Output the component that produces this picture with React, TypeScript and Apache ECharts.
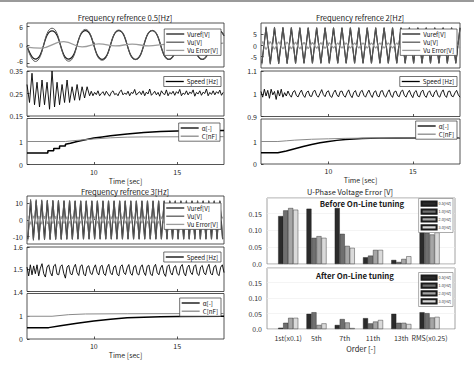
import React, { useEffect, useRef } from "react";
import * as echarts from "echarts";

const FONT = "'Noto Sans CJK JP', 'Noto Sans', sans-serif";

// ---------- Panel A : 0.5 Hz ----------
const tA = [6.0, 6.5, 7.5, 8.5, 9.5, 10.5, 11.5, 12.5, 13.5, 14.5, 15.5, 16.5, 17.5, 17.8];
const vurefA = [-0.3, -4.6, 4.6, -4.6, 4.7, -4.7, 4.7, -4.7, 4.7, -4.7, 4.7, -4.7, 4.7, 3.0];
const vuA = [-0.5, -5.4, 5.5, -5.3, 5.1, -5.0, 4.9, -4.8, 4.8, -4.7, 4.7, -4.7, 4.7, 3.0];
const tErrA = [6.0, 6.8, 8.2, 9.3, 10.3, 11.3, 12.3, 13.3, 14.3, 15.3, 16.3, 17.3, 17.8];
const errA = [-0.7, -1.0, 1.1, -0.6, 0.4, -0.3, 0.3, -0.3, 0.2, -0.2, 0.3, 0.5, 0.6];
const speedA1 = [0.29, 0.21, 0.34, 0.2, 0.3, 0.19, 0.31, 0.2, 0.3, 0.18, 0.35, 0.19, 0.3, 0.2, 0.29, 0.21, 0.31, 0.21, 0.28, 0.22, 0.29, 0.22, 0.28, 0.23, 0.28, 0.24];
const speedA2 = [
  0.26, 0.24, 0.255, 0.245, 0.262, 0.24, 0.25, 0.258, 0.242, 0.26,
  0.248, 0.238, 0.255, 0.262, 0.245, 0.25, 0.24, 0.258, 0.265, 0.244,
  0.252, 0.246, 0.26, 0.24, 0.255, 0.25, 0.268, 0.243, 0.252, 0.258,
  0.245, 0.262, 0.24, 0.256, 0.248, 0.27, 0.242, 0.25, 0.26, 0.244,
  0.255, 0.238, 0.262, 0.25, 0.245, 0.266, 0.24, 0.255, 0.248, 0.26,
  0.242, 0.258, 0.25, 0.268, 0.24, 0.252, 0.246, 0.262, 0.244, 0.256,
  0.25, 0.266, 0.238, 0.255, 0.248, 0.262, 0.242, 0.256, 0.25, 0.27,
  0.24, 0.255, 0.246, 0.262, 0.244, 0.258, 0.25, 0.265, 0.242, 0.255,
];
const alphaA = [[6, 0.5], [7.25, 0.5], [7.25, 0.6], [7.6, 0.6], [7.6, 0.7], [7.95, 0.7], [7.95, 0.8], [8.3, 0.8], [8.3, 0.88], [8.6, 0.92], [9.0, 1.0], [9.5, 1.08], [10, 1.15], [10.5, 1.2], [11, 1.25], [12, 1.33], [13, 1.39], [14, 1.43], [15, 1.46], [16, 1.47], [17.8, 1.48]];
const capA = [[6, 1.0], [8.3, 1.0], [9, 1.05], [10, 1.11], [11, 1.16], [12, 1.19], [13, 1.2], [17.8, 1.21]];

// ---------- Panel B : 2 Hz ----------
const vurefB = [
  -8, 8, -8, 8, -8, 8, -8, 8, -8, 8, -8, 8, -8, 8, -8, 8, -8, 8, -8, 8, -8, 8, -8, 8,
  -8, 8, -8, 8, -8, 8, -8, 8, -8, 8, -8, 8, -8, 8, -8, 8, -8, 8, -8, 8, -8, 8, -8, 8,
];
const vuB = [
  -8.6, 8.5, -8.5, 8.4, -8.4, 8.3, -8.3, 8.2, -8.2, 8.1, -8.1, 8.1, -8.1, 8.1, -8.1, 8.1, -8.1, 8.1, -8.1, 8.1, -8.1, 8.1, -8.1, 8.1,
  -8.1, 8.1, -8.1, 8.1, -8.1, 8.1, -8.1, 8.1, -8.1, 8.1, -8.1, 8.1, -8.1, 8.1, -8.1, 8.1, -8.1, 8.1, -8.1, 8.1, -8.1, 8.1, -8.1, 8.1,
];
const errB = [
  1.9, -1.8, 1.8, -1.7, 1.7, -1.6, 1.6, -1.5, 1.5, -1.5, 1.4, -1.4, 1.4, -1.3, 1.3, -1.3, 1.3, -1.2, 1.2, -1.2, 1.2, -1.2, 1.2, -1.2,
  1.2, -1.2, 1.2, -1.2, 1.2, -1.2, 1.2, -1.2, 1.2, -1.2, 1.2, -1.2, 1.2, -1.2, 1.2, -1.2, 1.2, -1.2, 1.2, -1.2, 1.2, -1.2, 1.2, -1.2,
];
const speedB = [
  1.01, 0.985, 1.02, 0.99, 1.015, 0.98, 1.02, 0.995, 1.01, 0.975, 1.015, 0.99, 1.02, 0.985, 1.005,
  0.99, 1.012, 0.995, 0.985, 1.008, 1.014, 0.992, 0.986, 1.004, 1.016,
  0.994, 0.984, 1.006, 1.012, 0.99, 0.988, 1.01, 1.015, 0.993, 0.985,
  1.002, 1.018, 0.996, 0.987, 1.008, 1.013, 0.99, 0.984, 1.005, 1.016,
  0.995, 0.986, 1.01, 1.012, 0.992, 0.985, 1.004, 1.017, 0.994, 0.983,
  1.006, 1.014, 0.991, 0.987, 1.009, 1.015, 0.993, 0.985, 1.003, 1.016,
  0.996, 0.984, 1.007, 1.013, 0.99, 0.986, 1.011, 1.014, 0.992, 0.985,
  1.005, 1.017, 0.994, 0.984, 1.008, 1.012, 0.991, 0.987, 1.01, 1.016,
  0.993, 0.985, 1.004, 1.015, 0.995, 0.983, 1.007, 1.014, 0.99, 0.986,
  1.009, 1.016, 0.992, 0.984, 1.005, 1.013, 0.994, 0.986, 1.008, 1.015,
  0.991, 0.985, 1.006, 1.017, 0.993, 0.984, 1.01, 1.012, 0.99, 0.987,
  1.004, 1.015, 0.995, 0.985,
];
const alphaB = [[6, 0.5], [7.0, 0.5], [7.5, 0.58], [8, 0.68], [8.5, 0.78], [9, 0.87], [9.5, 0.94], [10, 1.0], [10.5, 1.05], [11, 1.09], [12, 1.13], [13, 1.15], [14, 1.16], [17.8, 1.17]];
const capB = [[6, 1.0], [7, 1.0], [7.5, 1.03], [8, 1.06], [9, 1.1], [10, 1.12], [11, 1.14], [12, 1.15], [13, 1.16], [17.8, 1.17]];

// ---------- Panel C : 3 Hz ----------
const vurefC = [
  -11.5, 11.5, -11.5, 11.5, -11.5, 11.5, -11.5, 11.5, -11.5, 11.5,
  -11.5, 11.5, -11.5, 11.5, -11.5, 11.5, -11.5, 11.5, -11.5, 11.5,
  -11.5, 11.5, -11.5, 11.5, -11.5, 11.5, -11.5, 11.5, -11.5, 11.5,
  -11.5, 11.5, -11.5, 11.5, -11.5, 11.5, -11.5, 11.5, -11.5, 11.5,
  -11.5, 11.5, -11.5, 11.5, -11.5, 11.5, -11.5, 11.5, -11.5, 11.5,
  -11.5, 11.5, -11.5, 11.5, -11.5, 11.5, -11.5, 11.5, -11.5, 11.5,
  -11.5, 11.5, -11.5, 11.5, -11.5, 11.5, -11.5, 11.5, -11.5, 11.5,
  -11.5,
];
const vuC = [
  -12.4, 12.4, -12.3, 12.3, -12.2, 12.2, -12.1, 12.1, -12.0, 12.0,
  -11.9, 11.9, -11.9, 11.8, -11.8, 11.8, -11.8, 11.7, -11.7, 11.7,
  -11.7, 11.7, -11.7, 11.7, -11.7, 11.7, -11.7, 11.7, -11.7, 11.7,
  -11.7, 11.7, -11.7, 11.7, -11.7, 11.7, -11.7, 11.7, -11.7, 11.7,
  -11.7, 11.7, -11.7, 11.7, -11.7, 11.7, -11.7, 11.7, -11.7, 11.7,
  -11.7, 11.7, -11.7, 11.7, -11.7, 11.7, -11.7, 11.7, -11.7, 11.7,
  -11.7, 11.7, -11.7, 11.7, -11.7, 11.7, -11.7, 11.7, -11.7, 11.7,
  -11.7,
];
const errC = [
  2.6, -2.6, 2.5, -2.5, 2.4, -2.4, 2.3, -2.3, 2.2, -2.2,
  2.2, -2.1, 2.1, -2.1, 2.0, -2.0, 2.0, -2.0, 2.0, -2.0,
  2.0, -2.0, 2.0, -2.0, 2.0, -2.0, 2.0, -2.0, 2.0, -2.0,
  2.0, -2.0, 2.0, -2.0, 2.0, -2.0, 2.0, -2.0, 2.0, -2.0,
  2.0, -2.0, 2.0, -2.0, 2.0, -2.0, 2.0, -2.0, 2.0, -2.0,
  2.0, -2.0, 2.0, -2.0, 2.0, -2.0, 2.0, -2.0, 2.0, -2.0,
  2.0, -2.0, 2.0, -2.0, 2.0, -2.0, 2.0, -2.0, 2.0, -2.0,
  2.0,
];
const speedC = [
  1.51, 1.47, 1.52, 1.475, 1.515, 1.48, 1.52, 1.47, 1.505, 1.525,
  1.48, 1.465, 1.51, 1.52, 1.485, 1.47, 1.515, 1.522, 1.478, 1.475,
  1.512, 1.52, 1.482, 1.46, 1.51, 1.518, 1.48, 1.475, 1.508, 1.522,
  1.485, 1.472, 1.514, 1.52, 1.478, 1.47, 1.51, 1.516, 1.482, 1.476,
  1.506, 1.52, 1.486, 1.474, 1.512, 1.518, 1.48, 1.472, 1.508, 1.522,
  1.484, 1.475, 1.51, 1.516, 1.478, 1.47, 1.512, 1.52, 1.485, 1.476,
  1.507, 1.521, 1.482, 1.473, 1.511, 1.517, 1.48, 1.474, 1.509, 1.52,
  1.486, 1.472, 1.513, 1.519, 1.479, 1.471, 1.51, 1.522, 1.484, 1.475,
  1.506, 1.518, 1.481, 1.468, 1.512, 1.52, 1.485, 1.474, 1.509, 1.516,
  1.48, 1.473, 1.511, 1.521, 1.483, 1.47, 1.508, 1.519, 1.486, 1.476,
  1.512, 1.52, 1.479, 1.472, 1.51, 1.517, 1.484, 1.475, 1.507, 1.522,
  1.482, 1.474, 1.511, 1.518, 1.48, 1.471, 1.509, 1.52, 1.485,
];
const alphaC = [[6, 0.5], [7.3, 0.5], [8, 0.58], [9, 0.69], [10, 0.79], [11, 0.87], [12, 0.93], [13, 0.96], [14, 0.98], [15, 0.99], [17.8, 1.0]];
const capC = [[6, 1.0], [7.5, 1.0], [8.5, 1.07], [9.5, 1.1], [12, 1.11], [17.8, 1.12]];

// ---------- Panel D : bar chart ----------
const orders = ["1st(x0.1)", "5th", "7th", "11th", "13th", "RMS(x0.25)"];
const freqNames = ["0.5[Hz]", "1.0[Hz]", "2.0[Hz]", "3.0[Hz]"];
const before05 = [0.143, 0.165, 0.167, 0.02, 0.012, 0.105];
const before10 = [0.16, 0.078, 0.09, 0.025, 0.006, 0.093];
const before20 = [0.167, 0.083, 0.054, 0.042, 0.015, 0.088];
const before30 = [0.162, 0.078, 0.048, 0.042, 0.023, 0.094];
const after05 = [0.004, 0.049, 0.013, 0.035, 0.049, 0.054];
const after10 = [0.02, 0.054, 0.032, 0.018, 0.02, 0.051];
const after20 = [0.036, 0.013, 0.021, 0.024, 0.02, 0.037];
const after30 = [0.036, 0.018, 0.003, 0.029, 0.016, 0.039];

const uniform = (t0: number, dt: number, vals: number[]) => vals.map((v, i) => [+(t0 + i * dt).toFixed(4), v]);
const paired = (ts: number[], vals: number[]) => vals.map((v, i) => [ts[i], v]);

const C_REF = "#1c1c1c";
const C_VU = "#5a5a5a";
const C_ERR = "#9c9c9c";
const BAR_COLORS = ["#2b2b2b", "#6f6f6f", "#a6a6a6", "#dadada"];

function buildOption() {
  const timeGrids = [
    { left: 27, top: 23, width: 197, height: 44 },
    { left: 27, top: 71, width: 197, height: 45 },
    { left: 27, top: 118.5, width: 197, height: 46 },
    { left: 261, top: 23, width: 199, height: 45 },
    { left: 261, top: 71, width: 199, height: 45.5 },
    { left: 261, top: 119, width: 199, height: 45 },
    { left: 27, top: 196, width: 197, height: 48 },
    { left: 27, top: 247, width: 197, height: 44.5 },
    { left: 27, top: 293.5, width: 197, height: 45.5 },
  ];
  const barGrids = [
    { left: 267, top: 198, width: 188, height: 66 },
    { left: 267, top: 268, width: 188, height: 61 },
  ];
  const yDefs = [
    { min: -7.2, max: 7.2, ticks: [-6, 0, 6] },
    { min: 0.15, max: 0.35, ticks: [0.15, 0.25, 0.35] },
    { min: 0, max: 2, ticks: [0, 1] },
    { min: -10.2, max: 10.2, ticks: [-5, 0, 5] },
    { min: 0.9, max: 1.1, ticks: [0.9, 1, 1.1] },
    { min: 0, max: 2, ticks: [0, 1] },
    { min: -14.5, max: 14.5, ticks: [-10, 0, 10] },
    { min: 1.4, max: 1.6, ticks: [1.4, 1.5, 1.6] },
    { min: 0, max: 2, ticks: [0, 1] },
  ];
  const labelStyle = { fontSize: 7, color: "#262626", fontFamily: FONT };

  const grid: any[] = [];
  const xAxis: any[] = [];
  const yAxis: any[] = [];
  timeGrids.forEach((g, i) => {
    grid.push({ ...g, show: true, borderColor: "#2a2a2a", borderWidth: 0.8, backgroundColor: "#fff" });
    const bottom = i % 3 === 2;
    xAxis.push({
      type: "value", gridIndex: i, min: 6, max: 17.8,
      axisLine: { show: false },
      axisTick: { show: true, inside: true, length: 2.5, customValues: [10, 15], lineStyle: { color: "#2a2a2a", width: 0.8 } },
      axisLabel: { show: bottom, customValues: [10, 15], margin: 3.5, ...labelStyle },
      splitLine: { show: false },
      name: bottom ? "Time [sec]" : "",
      nameLocation: "middle", nameGap: 12.5,
      nameTextStyle: { fontSize: 7, color: "#262626", fontFamily: FONT },
    });
    const d = yDefs[i];
    const axisLabel: any = { customValues: d.ticks, margin: 4, ...labelStyle };
    if (i === 0) {
      // lowest label of the top plot sits just above the next plot's top label
      axisLabel.fontSize = 6.6;
      axisLabel.formatter = (v: number) => (v < 0 ? `{lo|${v}}` : String(v));
      axisLabel.rich = { lo: { fontSize: 6.6, fontFamily: FONT, color: "#262626", padding: [0, 0, 4, 0] } };
    }
    yAxis.push({
      type: "value", gridIndex: i, min: d.min, max: d.max,
      axisLine: { show: false },
      axisTick: { show: true, inside: true, length: 2.5, customValues: d.ticks, lineStyle: { color: "#2a2a2a", width: 0.8 } },
      axisLabel,
      splitLine: { show: false },
    });
  });
  barGrids.forEach((g, j) => {
    const gi = 9 + j;
    grid.push({ ...g, show: true, borderColor: "#8a8a8a", borderWidth: 0.8, backgroundColor: "#fff" });
    xAxis.push({
      type: "value", gridIndex: gi, min: 0.25, max: 6.9,
      axisLine: { show: false },
      axisTick: { show: false },
      axisLabel: {
        show: j === 1, customValues: [1, 2, 3, 4, 5, 6], margin: 5, ...labelStyle, color: "#333",
        formatter: (v: number) => orders[Math.round(v) - 1] ?? "",
      },
      splitLine: { show: false },
      name: j === 1 ? "Order [-]" : "",
      nameLocation: "middle", nameGap: 16,
      nameTextStyle: { fontSize: 7.5, color: "#262626", fontFamily: FONT },
    });
    yAxis.push({
      type: "value", gridIndex: gi, min: 0, max: 0.197, interval: 0.05,
      axisLine: { show: false },
      axisTick: { show: false },
      axisLabel: {
        showMaxLabel: false, margin: 5, ...labelStyle, color: "#333",
        formatter: (v: number) => (v === 0 ? "0.0" : v.toFixed(2)),
      },
      splitLine: { show: true, lineStyle: { color: "#ececec", width: 0.6 } },
    });
  });

  const line = (name: string, idx: number, data: any[], color: string, width: number, smooth = false) => ({
    type: "line", name, xAxisIndex: idx, yAxisIndex: idx, data,
    symbol: "none", showSymbol: false, smooth, smoothMonotone: smooth ? "x" : undefined,
    lineStyle: { color, width }, itemStyle: { color }, clip: true, z: 2,
  });

  const series: any[] = [
    line("Vuref[V]", 0, paired(tA, vurefA), C_REF, 1.2, true),
    line("Vu[V]", 0, paired(tA, vuA), C_VU, 1.0, true),
    line("Vu Error[V]", 0, paired(tErrA, errA), C_ERR, 1.3, true),
    line("Speed [Hz]", 1, [...uniform(6.0, 0.15, speedA1), ...uniform(9.85, 0.1, speedA2)], "#000", 0.9),
    line("α[-]", 2, alphaA, "#000", 1.5),
    line("C[nF]", 2, capA, "#8a8a8a", 1.0),

    line("Vuref[V]", 3, uniform(6.05, 0.25, vurefB), C_REF, 1.2),
    line("Vu[V]", 3, uniform(6.05, 0.25, vuB), C_VU, 1.0),
    line("Vu Error[V]", 3, uniform(6.05, 0.25, errB), C_ERR, 1.3),
    line("Speed [Hz]", 4, uniform(6.0, 0.1, speedB), "#000", 0.9),
    line("α[-]", 5, alphaB, "#000", 1.5),
    line("C[nF]", 5, capB, "#8a8a8a", 1.0),

    line("Vuref[V]", 6, uniform(6.05, 1 / 6, vurefC), C_REF, 1.2),
    line("Vu[V]", 6, uniform(6.05, 1 / 6, vuC), C_VU, 1.0),
    line("Vu Error[V]", 6, uniform(6.05, 1 / 6, errC), C_ERR, 1.3),
    line("Speed [Hz]", 7, uniform(6.0, 0.1, speedC), "#000", 0.9),
    line("α[-]", 8, alphaC, "#000", 1.5),
    line("C[nF]", 8, capC, "#8a8a8a", 1.0),
  ];

  const beforeSets = [before05, before10, before20, before30];
  const afterSets = [after05, after10, after20, after30];
  [beforeSets, afterSets].forEach((sets, j) => {
    sets.forEach((vals, k) => {
      series.push({
        type: "bar", name: freqNames[k], xAxisIndex: 9 + j, yAxisIndex: 9 + j,
        data: vals.map((v, i) => [i + 1, v]),
        barWidth: 5, barGap: "0%",
        itemStyle: { color: BAR_COLORS[k], borderColor: "#1a1a1a", borderWidth: 0.4 },
        z: 2,
      });
    });
  });

  const legendBase = {
    orient: "vertical", selectedMode: false, itemGap: 1.2, padding: [1.5, 3, 1.5, 2],
    borderColor: "#333", borderWidth: 0.7, backgroundColor: "#fff", z: 10,
    icon: "rect", itemWidth: 18, itemHeight: 1.3,
    textStyle: { fontSize: 6.2, lineHeight: 7, color: "#111", fontFamily: FONT, padding: [0, 0, 0, -2] },
  };
  const vLeg = ["Vuref[V]", "Vu[V]", "Vu Error[V]"];
  const aLeg = ["α[-]", "C[nF]"];
  const barLeg = {
    ...legendBase, data: freqNames, right: 21, icon: "rect", itemWidth: 15, itemHeight: 4.3, itemGap: 1.6,
    borderColor: "#888", padding: [2, 2, 2, 2],
    textStyle: { fontSize: 3.8, lineHeight: 4.3, color: "#333", fontFamily: FONT, padding: [0, 0, 0, -3] },
  };
  const legend: any[] = [
    { ...legendBase, data: vLeg, right: 253, top: 29 },
    { ...legendBase, data: ["Speed [Hz]"], right: 253, top: 76.5 },
    { ...legendBase, data: aLeg, right: 254, top: 123 },
    { ...legendBase, data: vLeg, right: 17, top: 29 },
    { ...legendBase, data: ["Speed [Hz]"], right: 17, top: 76.5 },
    { ...legendBase, data: aLeg, right: 17, top: 121 },
    { ...legendBase, data: vLeg, right: 253, top: 203 },
    { ...legendBase, data: ["Speed [Hz]"], right: 253, top: 252 },
    { ...legendBase, data: aLeg, right: 253, top: 298 },
    { ...barLeg, top: 198.5 },
    { ...barLeg, top: 272.5 },
  ];

  const txt = (text: string, x: number, y: number, size: number, weight: any = "normal") => ({
    type: "text", x, y, z: 20,
    style: { text, fontSize: size, fontFamily: FONT, fontWeight: weight, fill: "#1a1a1a", textAlign: "center", textVerticalAlign: "middle" },
  });

  const graphic = [
    { type: "rect", shape: { x: 0, y: 0, width: 474, height: 2 }, style: { fill: "#9a9a9a" } },
    txt("Frequency refrence 0.5[Hz]", 125, 17.5, 7.6),
    txt("Frequency refrence 2[Hz]", 360, 17.5, 7.6),
    txt("Frequency refrence 3[Hz]", 125, 191.5, 7.6),
    txt("U-Phase Voltage Error [V]", 350, 191, 7.4),
    txt("Before On-Line tuning", 362, 203.5, 7.8, "bold"),
    txt("After On-Line tuning", 355, 275.5, 7.8, "bold"),
  ];

  return {
    animation: false,
    backgroundColor: "#fff",
    textStyle: { fontFamily: FONT },
    grid, xAxis, yAxis, series, legend, graphic,
  };
}

export default function App() {
  const ref = useRef<HTMLDivElement>(null);
  useEffect(() => {
    if (!ref.current) return;
    const chart = echarts.init(ref.current, null, { renderer: "svg" });
    chart.setOption(buildOption() as any);
    return () => chart.dispose();
  }, []);
  return (
    <div
      ref={ref}
      style={{ position: "fixed", left: 0, top: 0, width: 474, height: 370, background: "#fff" }}
    />
  );
}
